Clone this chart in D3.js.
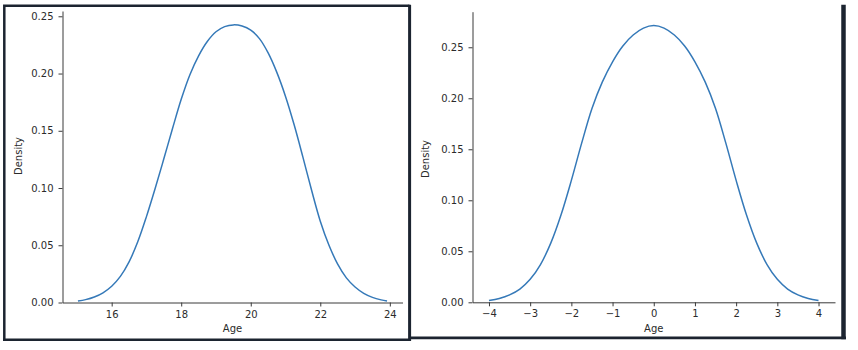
<!DOCTYPE html>
<html>
<head>
<meta charset="utf-8">
<script src="https://cdn.jsdelivr.net/npm/d3@7"></script>
<style>
  html, body { margin: 0; padding: 0; background: #fff; }
  svg { display: block; }
  text { font-family: "DejaVu Sans", sans-serif; }
</style>
</head>
<body>
<svg id="chart" width="858" height="350"></svg>
<script>
// ---- Data ----
const ageX = [15.03, 15.25, 15.5, 15.75, 16.0, 16.25, 16.5, 16.75, 17.0, 17.25, 17.5, 17.75, 18.0, 18.25, 18.5, 18.75,
  19.0, 19.25, 19.5, 19.75, 20.0, 20.25, 20.5, 20.75, 21.0, 21.25, 21.5, 21.75, 22.0, 22.25, 22.5,
  22.75, 23.0, 23.25, 23.5, 23.75, 23.92];
const ageDensity = [0.0013, 0.0025, 0.0048, 0.0085, 0.0142, 0.0228, 0.0355, 0.053, 0.075, 0.0995, 0.1255, 0.152, 0.1775, 0.199, 0.2155, 0.228,
  0.2365, 0.241, 0.2425, 0.2415, 0.238, 0.2305, 0.218, 0.201, 0.180, 0.155, 0.127, 0.098, 0.071, 0.050, 0.0335,
  0.0215, 0.0135, 0.008, 0.0045, 0.0023, 0.0013];

const stdX = [-4.0, -3.75, -3.5, -3.25, -3.0, -2.75, -2.5, -2.25, -2.0, -1.75, -1.5, -1.25, -1.0, -0.75, -0.5, -0.25,
  0, 0.25, 0.5, 0.75, 1.0, 1.25, 1.5, 1.75, 2.0, 2.25, 2.5, 2.75, 3.0, 3.25, 3.5, 3.75, 4.0];
const stdDensity = [0.0018, 0.0038, 0.0073, 0.0130, 0.0225, 0.0370, 0.0580, 0.0858, 0.1195, 0.1560, 0.1900, 0.2158, 0.2358, 0.2513, 0.2620, 0.2688,
  0.2713, 0.2688, 0.2620, 0.2513, 0.2358, 0.2158, 0.1900, 0.1560, 0.1195, 0.0858, 0.0580, 0.0370, 0.0225, 0.0130, 0.0073, 0.0038, 0.0018];

const leftXTicks = [16, 18, 20, 22, 24];
const leftYTicks = [0.00, 0.05, 0.10, 0.15, 0.20, 0.25];
const rightXTicks = [-4, -3, -2, -1, 0, 1, 2, 3, 4];
const rightYTicks = [0.00, 0.05, 0.10, 0.15, 0.20, 0.25];
const xLabel = "Age";
const yLabel = "Density";

// ---- Drawing ----
const svg = d3.select("#chart");
svg.append("rect").attr("width", 858).attr("height", 350).attr("fill", "#fff");

const textColor = "#2b2b2b";
const spineColor = "#3a3a3a";
const lineColor = "#3579b8";
const frameColor = "#1c2430";

function withMargin(ext, frac) {
  const span = ext[1] - ext[0];
  return [ext[0] - span * frac, ext[1] + span * frac];
}

function panel(cfg) {
  const xs = cfg.xs, ys = cfg.ys;
  const data = xs.map((d, i) => ({ x: d, y: ys[i] }));
  const xDom = withMargin(d3.extent(xs), 0.05);
  const yMax = d3.max(ys) * 1.05;
  const x = d3.scaleLinear().domain(xDom).range([cfg.left, cfg.right]);
  const y = d3.scaleLinear().domain([0, yMax]).range([cfg.bottom, cfg.top]);
  const g = svg.append("g");

  const xAxis = d3.axisBottom(x).tickValues(cfg.xTicks).tickSize(4).tickPadding(4)
    .tickFormat(d => d < 0 ? "\u2212" + Math.abs(d) : String(d)).tickSizeOuter(0);
  const gx = g.append("g").attr("transform", `translate(0,${cfg.bottom})`).call(xAxis);

  const yAxis = d3.axisLeft(y).tickValues(cfg.yTicks).tickSize(4).tickPadding(5)
    .tickFormat(d3.format(".2f")).tickSizeOuter(0);
  const gy = g.append("g").attr("transform", `translate(${cfg.left},0)`).call(yAxis);

  [gx, gy].forEach(a => {
    a.select(".domain").attr("stroke", spineColor).attr("stroke-width", 1);
    a.selectAll(".tick line").attr("stroke", spineColor).attr("stroke-width", 1);
    a.selectAll(".tick text").attr("fill", textColor).attr("font-size", 10)
      .attr("font-family", "DejaVu Sans, sans-serif");
  });

  const line = d3.line().x(d => x(d.x)).y(d => y(d.y)).curve(d3.curveCatmullRom.alpha(0.5));
  g.append("path").datum(data).attr("d", line).attr("fill", "none")
    .attr("stroke", lineColor).attr("stroke-width", 1.5);

  g.append("text").attr("x", (cfg.left + cfg.right) / 2).attr("y", cfg.bottom + 29.5)
    .attr("text-anchor", "middle").attr("font-size", 10).attr("fill", textColor).text(xLabel);
  g.append("text").attr("transform", `translate(${cfg.yLabelX},${cfg.yLabelY}) rotate(-90)`)
    .attr("text-anchor", "middle").attr("font-size", 10).attr("fill", textColor).text(yLabel);
}

panel({ xs: ageX, ys: ageDensity, left: 62.5, right: 402.5, top: 11, bottom: 302.5,
  xTicks: leftXTicks, yTicks: leftYTicks, yLabelX: 21.5, yLabelY: 156 });
panel({ xs: stdX, ys: stdDensity, left: 472.5, right: 835, top: 11.7, bottom: 302.3,
  xTicks: rightXTicks, yTicks: rightYTicks, yLabelX: 429, yLabelY: 159 });

// frames around the two screenshots
const frame = svg.append("g").attr("fill", "none").attr("stroke", frameColor);
frame.append("path").attr("d", "M4.3,339.5 L4.3,5.8 L409.5,5.8").attr("stroke-width", 2.5);
frame.append("path").attr("d", "M3,339.8 L410,339.8").attr("stroke-width", 2.6);
frame.append("path").attr("d", "M409.6,4.8 L409.6,341").attr("stroke-width", 3);
frame.append("path").attr("d", "M410,337.8 L846,337.8").attr("stroke-width", 2.8);
frame.append("path").attr("d", "M843.5,4.8 L843.5,339.2").attr("stroke-width", 4.5);
</script>
</body>
</html>
